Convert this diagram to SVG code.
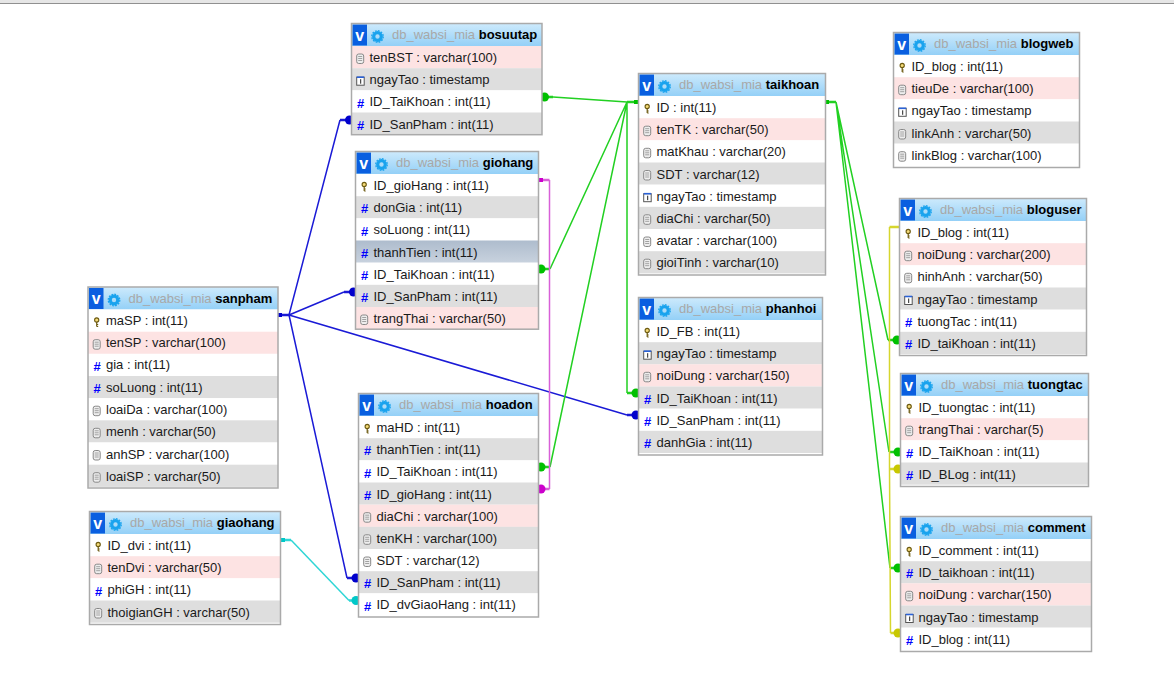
<svg xmlns="http://www.w3.org/2000/svg" width="1174" height="695" viewBox="0 0 1174 695">
<style>
text{font-family:"Liberation Sans",Arial,sans-serif;font-size:13px}
.t{fill:#1a1a1a}
.db{fill:#a8a8a8}
.nm{font-weight:bold;fill:#000}
.v{font-weight:bold;fill:#fff;font-size:16px;text-anchor:middle}
.h{fill:#00f;font-weight:bold;font-size:13px;text-anchor:middle}
.w{fill:#fff}.p{fill:#fde3e3}.g{fill:#dedede}.b{fill:url(#sel)}
.hd{fill:url(#head)}
.vb{fill:#0a5fe0}
.bd{fill:none;stroke:#aaa;stroke-width:1.5}
.c{fill:none;stroke-width:1.5;stroke-linejoin:miter}
.s{fill:none;stroke-width:2.6}
</style>
<defs>
<linearGradient id="head" x1="0" y1="0" x2="0" y2="1"><stop offset="0" stop-color="#cdeafc"/><stop offset="1" stop-color="#94d0f7"/></linearGradient>
<linearGradient id="sel" x1="0" y1="0" x2="0" y2="1"><stop offset="0" stop-color="#aebccd"/><stop offset="1" stop-color="#c8d2de"/></linearGradient>
<g id="gear"><circle r="3.8" fill="none" stroke="#19a3ee" stroke-width="3.2"/><circle r="5.8" fill="none" stroke="#19a3ee" stroke-width="1.2" stroke-dasharray="1.8 1.2"/></g>
<g id="k"><circle cy="-2" r="2.1" fill="#f5dc7a" stroke="#6d5a10" stroke-width="1.1"/><path d="M0 0V4.5M0 2.5H1.5M0 4.5H1.5" fill="none" stroke="#6d5a10" stroke-width="1.2"/></g>
<g id="d"><rect x="-3.500" y="-4.500" width="7" height="9.500" rx="2" fill="#eee" stroke="#888"/><path d="M-2 -2H2M-2 0H2M-2 2H2" stroke="#999" stroke-width=".9"/></g>
<g id="ts"><rect x="-3.500" y="-3.500" width="7.500" height="8" fill="#fff" stroke="#555"/><path d="M-3.500 -3.500H4" stroke="#2a62d8" stroke-width="1.600"/><path d="M0.500 -1.500V3" stroke="#222"/></g>
</defs>
<rect width="1174" height="695" fill="#fff"/>
<rect width="1174" height="3" fill="#e6e6e6"/>
<rect y="3" width="1174" height="1" fill="#909090"/>
<g id="connectors">
<g stroke="#1a1ad6" fill="#0000cc">
<path class="c" d="M289 315L340 120M289 315L344 292M289 315L627 415M289 315L347 578"/>
<path class="s" d="M278 315H289M340 120H351M344 292H355M627 415H638M347 578H358"/>
<rect x="278" y="313" width="4" height="4" stroke="none"/>
<circle cx="349.500" cy="120" r="4.500" stroke="none"/><circle cx="353.500" cy="292" r="4.500" stroke="none"/><circle cx="636" cy="415" r="4.500" stroke="none"/><circle cx="356" cy="578" r="4.500" stroke="none"/>
</g>
<g stroke="#22d022" fill="#00c000">
<path class="c" d="M627 102L553 97M627 102L550 269M627 102L550 467M627 102V393M836 102L888 340M836 102L889 452M836 102L890 568"/>
<path class="s" d="M638 102H627M542 97H553M539 269H550M539 467H550M627 393H638M825 102H836M899 340H888M900 452H889M900 568H890"/>
<rect x="634" y="100" width="4" height="4" stroke="none"/><rect x="825" y="100" width="4" height="4" stroke="none"/>
<circle cx="544.500" cy="97" r="4.500" stroke="none"/><circle cx="541" cy="269" r="4.500" stroke="none"/><circle cx="541" cy="467" r="4.500" stroke="none"/><circle cx="636" cy="393" r="4.500" stroke="none"/><circle cx="897" cy="340" r="4.500" stroke="none"/><circle cx="898" cy="452" r="4.500" stroke="none"/><circle cx="898" cy="568" r="4.500" stroke="none"/>
</g>
<g stroke="#d860d8" fill="#cc00cc">
<path class="c" d="M549.500 180V489"/><path class="s" d="M538.500 180H549.500M538.500 489H549.500"/>
<rect x="539" y="178" width="4" height="4" stroke="none"/><circle cx="541" cy="489" r="4.500" stroke="none"/>
</g>
<g stroke="#2fd6d6" fill="#00c8c8">
<path class="c" d="M291 540L349 600.500"/><path class="s" d="M280 540H291M349 600.500H358"/>
<rect x="281" y="538" width="4" height="4" stroke="none"/><circle cx="356" cy="600.500" r="4.500" stroke="none"/>
</g>
<g stroke="#d6d62e" fill="#c8c800">
<path class="c" d="M889.500 227V469L890.500 633"/><path class="s" d="M899 227H889.500M889.500 469H900M890.500 633H900"/>
<circle cx="898" cy="469" r="4.500" stroke="none"/><circle cx="898" cy="633" r="4.500" stroke="none"/>
</g>
</g>

<g id="bosuutap" transform="translate(351.500,23.500)">
<rect class="hd" width="190.500" height="22.500"/><rect class="vb" x="1" y="1" width="14.500" height="21"/><text class="v" x="8.300" y="17">v</text><use href="#gear" x="26" y="13"/>
<text x="40.500" y="15.500"><tspan class="db">db_wabsi_mia</tspan> <tspan class="nm">bosuutap</tspan></text>
<rect class="p" y="22.500" width="190.500" height="22.200"/><rect class="g" y="44.700" width="190.500" height="22.200"/><rect class="w" y="66.800" width="190.500" height="22.200"/><rect class="g" y="89" width="190.500" height="22.200"/>
<use href="#d" x="8.700" y="35"/><text class="t" x="18" y="38.500">tenBST : varchar(100)</text>
<use href="#ts" x="8.700" y="57.200"/><text class="t" x="18" y="60.700">ngayTao : timestamp</text>
<text class="h" x="9" y="84">#</text><text class="t" x="18" y="82.800">ID_TaiKhoan : int(11)</text>
<text class="h" x="9" y="106.200">#</text><text class="t" x="18" y="105">ID_SanPham : int(11)</text>
<rect class="bd" width="190.500" height="111.200"/>
</g>

<g id="giohang" transform="translate(355.500,151.500)">
<rect class="hd" width="183" height="22.500"/><rect class="vb" x="1" y="1" width="14.500" height="21"/><text class="v" x="8.300" y="17">v</text><use href="#gear" x="26" y="13"/>
<text x="40.500" y="15.500"><tspan class="db">db_wabsi_mia</tspan> <tspan class="nm">giohang</tspan></text>
<rect class="w" y="22.500" width="183" height="22.200"/><rect class="g" y="44.700" width="183" height="22.200"/><rect class="w" y="66.800" width="183" height="22.200"/><rect class="b" y="89" width="183" height="22.200"/><rect class="w" y="111.200" width="183" height="22.200"/><rect class="g" y="133.300" width="183" height="22.200"/><rect class="p" y="155.500" width="183" height="22.200"/>
<use href="#k" x="8.700" y="35"/><text class="t" x="18" y="38.500">ID_gioHang : int(11)</text>
<text class="h" x="9" y="61.800">#</text><text class="t" x="18" y="60.700">donGia : int(11)</text>
<text class="h" x="9" y="84">#</text><text class="t" x="18" y="82.800">soLuong : int(11)</text>
<text class="h" x="9" y="106.200">#</text><text class="t" x="18" y="105">thanhTien : int(11)</text>
<text class="h" x="9" y="128.400">#</text><text class="t" x="18" y="127.200">ID_TaiKhoan : int(11)</text>
<text class="h" x="9" y="150.500">#</text><text class="t" x="18" y="149.300">ID_SanPham : int(11)</text>
<use href="#d" x="8.700" y="168"/><text class="t" x="18" y="171.500">trangThai : varchar(50)</text>
<rect class="bd" width="183" height="177.700"/>
</g>

<g id="sanpham" transform="translate(88,287)">
<rect class="hd" width="190" height="22.500"/><rect class="vb" x="1" y="1" width="14.500" height="21"/><text class="v" x="8.300" y="17">v</text><use href="#gear" x="26" y="13"/>
<text x="40.500" y="15.500"><tspan class="db">db_wabsi_mia</tspan> <tspan class="nm">sanpham</tspan></text>
<rect class="w" y="22.500" width="190" height="22.200"/><rect class="p" y="44.700" width="190" height="22.200"/><rect class="w" y="66.800" width="190" height="22.200"/><rect class="g" y="89" width="190" height="22.200"/><rect class="w" y="111.200" width="190" height="22.200"/><rect class="g" y="133.300" width="190" height="22.200"/><rect class="w" y="155.500" width="190" height="22.200"/><rect class="g" y="177.700" width="190" height="22.200"/>
<use href="#k" x="8.700" y="35"/><text class="t" x="18" y="38">maSP : int(11)</text>
<use href="#d" x="8.700" y="57.200"/><text class="t" x="18" y="60.200">tenSP : varchar(100)</text>
<text class="h" x="9" y="84">#</text><text class="t" x="18" y="82.300">gia : int(11)</text>
<text class="h" x="9" y="106.200">#</text><text class="t" x="18" y="105">soLuong : int(11)</text>
<use href="#d" x="8.700" y="123.700"/><text class="t" x="18" y="127.200">loaiDa : varchar(100)</text>
<use href="#d" x="8.700" y="145.800"/><text class="t" x="18" y="149.300">menh : varchar(50)</text>
<use href="#d" x="8.700" y="168"/><text class="t" x="18" y="171.500">anhSP : varchar(100)</text>
<use href="#d" x="8.700" y="190.200"/><text class="t" x="18" y="193.700">loaiSP : varchar(50)</text>
<rect class="bd" width="190" height="201"/>
</g>

<g id="giaohang" transform="translate(89.500,511.500)">
<rect class="hd" width="191" height="22.500"/><rect class="vb" x="1" y="1" width="14.500" height="21"/><text class="v" x="8.300" y="17">v</text><use href="#gear" x="26" y="13"/>
<text x="40.500" y="15.500"><tspan class="db">db_wabsi_mia</tspan> <tspan class="nm">giaohang</tspan></text>
<rect class="w" y="22.500" width="191" height="22.200"/><rect class="p" y="44.700" width="191" height="22.200"/><rect class="w" y="66.800" width="191" height="22.200"/><rect class="g" y="89" width="191" height="22.200"/>
<use href="#k" x="8.700" y="35"/><text class="t" x="18" y="38.500">ID_dvi : int(11)</text>
<use href="#d" x="8.700" y="57.200"/><text class="t" x="18" y="60.700">tenDvi : varchar(50)</text>
<text class="h" x="9" y="84">#</text><text class="t" x="18" y="82.800">phiGH : int(11)</text>
<use href="#d" x="8.700" y="101.500"/><text class="t" x="18" y="105">thoigianGH : varchar(50)</text>
<rect class="bd" width="191" height="113"/>
</g>

<g id="hoadon" transform="translate(358.500,393.500)">
<rect class="hd" width="180" height="22.500"/><rect class="vb" x="1" y="1" width="14.500" height="21"/><text class="v" x="8.300" y="17">v</text><use href="#gear" x="26" y="13"/>
<text x="40.500" y="15.500"><tspan class="db">db_wabsi_mia</tspan> <tspan class="nm">hoadon</tspan></text>
<rect class="w" y="22.500" width="180" height="22.200"/><rect class="g" y="44.700" width="180" height="22.200"/><rect class="w" y="66.800" width="180" height="22.200"/><rect class="g" y="89" width="180" height="22.200"/><rect class="p" y="111.200" width="180" height="22.200"/><rect class="g" y="133.300" width="180" height="22.200"/><rect class="w" y="155.500" width="180" height="22.200"/><rect class="g" y="177.700" width="180" height="22.200"/><rect class="w" y="199.800" width="180" height="22.200"/>
<use href="#k" x="8.700" y="35"/><text class="t" x="18" y="38.500">maHD : int(11)</text>
<text class="h" x="9" y="61.800">#</text><text class="t" x="18" y="60.700">thanhTien : int(11)</text>
<text class="h" x="9" y="84">#</text><text class="t" x="18" y="82.800">ID_TaiKhoan : int(11)</text>
<text class="h" x="9" y="106.200">#</text><text class="t" x="18" y="105">ID_gioHang : int(11)</text>
<use href="#d" x="8.700" y="123.700"/><text class="t" x="18" y="127.200">diaChi : varchar(100)</text>
<use href="#d" x="8.700" y="145.800"/><text class="t" x="18" y="149.300">tenKH : varchar(100)</text>
<use href="#d" x="8.700" y="168"/><text class="t" x="18" y="171.500">SDT : varchar(12)</text>
<text class="h" x="9" y="194.900">#</text><text class="t" x="18" y="193.700">ID_SanPham : int(11)</text>
<text class="h" x="9" y="217">#</text><text class="t" x="18" y="215.800">ID_dvGiaoHang : int(11)</text>
<rect class="bd" width="180" height="223.500"/>
</g>

<g id="taikhoan" transform="translate(638.500,73.500)">
<rect class="hd" width="187" height="22.500"/><rect class="vb" x="1" y="1" width="14.500" height="21"/><text class="v" x="8.300" y="17">v</text><use href="#gear" x="26" y="13"/>
<text x="40.500" y="15.500"><tspan class="db">db_wabsi_mia</tspan> <tspan class="nm">taikhoan</tspan></text>
<rect class="w" y="22.500" width="187" height="22.200"/><rect class="p" y="44.700" width="187" height="22.200"/><rect class="w" y="66.800" width="187" height="22.200"/><rect class="g" y="89" width="187" height="22.200"/><rect class="w" y="111.200" width="187" height="22.200"/><rect class="g" y="133.300" width="187" height="22.200"/><rect class="w" y="155.500" width="187" height="22.200"/><rect class="g" y="177.700" width="187" height="22.200"/>
<use href="#k" x="8.700" y="35"/><text class="t" x="18" y="38.500">ID : int(11)</text>
<use href="#d" x="8.700" y="57.200"/><text class="t" x="18" y="60.700">tenTK : varchar(50)</text>
<use href="#d" x="8.700" y="79.300"/><text class="t" x="18" y="82.800">matKhau : varchar(20)</text>
<use href="#d" x="8.700" y="101.500"/><text class="t" x="18" y="105">SDT : varchar(12)</text>
<use href="#ts" x="8.700" y="123.700"/><text class="t" x="18" y="127.200">ngayTao : timestamp</text>
<use href="#d" x="8.700" y="145.800"/><text class="t" x="18" y="149.300">diaChi : varchar(50)</text>
<use href="#d" x="8.700" y="168"/><text class="t" x="18" y="171.500">avatar : varchar(100)</text>
<use href="#d" x="8.700" y="190.200"/><text class="t" x="18" y="193.700">gioiTinh : varchar(10)</text>
<rect class="bd" width="187" height="201.500"/>
</g>

<g id="phanhoi" transform="translate(638.500,297.500)">
<rect class="hd" width="184" height="22.500"/><rect class="vb" x="1" y="1" width="14.500" height="21"/><text class="v" x="8.300" y="17">v</text><use href="#gear" x="26" y="13"/>
<text x="40.500" y="15.500"><tspan class="db">db_wabsi_mia</tspan> <tspan class="nm">phanhoi</tspan></text>
<rect class="w" y="22.500" width="184" height="22.200"/><rect class="g" y="44.700" width="184" height="22.200"/><rect class="p" y="66.800" width="184" height="22.200"/><rect class="g" y="89" width="184" height="22.200"/><rect class="w" y="111.200" width="184" height="22.200"/><rect class="g" y="133.300" width="184" height="22.200"/>
<use href="#k" x="8.700" y="35"/><text class="t" x="18" y="38.500">ID_FB : int(11)</text>
<use href="#ts" x="8.700" y="57.200"/><text class="t" x="18" y="60.700">ngayTao : timestamp</text>
<use href="#d" x="8.700" y="79.300"/><text class="t" x="18" y="82.800">noiDung : varchar(150)</text>
<text class="h" x="9" y="106.200">#</text><text class="t" x="18" y="105">ID_TaiKhoan : int(11)</text>
<text class="h" x="9" y="128.400">#</text><text class="t" x="18" y="127.200">ID_SanPham : int(11)</text>
<text class="h" x="9" y="150.500">#</text><text class="t" x="18" y="149.300">danhGia : int(11)</text>
<rect class="bd" width="184" height="157.500"/>
</g>

<g id="blogweb" transform="translate(893.500,32.500)">
<rect class="hd" width="186" height="22.500"/><rect class="vb" x="1" y="1" width="14.500" height="21"/><text class="v" x="8.300" y="17">v</text><use href="#gear" x="26" y="13"/>
<text x="40.500" y="15.500"><tspan class="db">db_wabsi_mia</tspan> <tspan class="nm">blogweb</tspan></text>
<rect class="w" y="22.500" width="186" height="22.200"/><rect class="p" y="44.700" width="186" height="22.200"/><rect class="w" y="66.800" width="186" height="22.200"/><rect class="g" y="89" width="186" height="22.200"/><rect class="w" y="111.200" width="186" height="22.200"/>
<use href="#k" x="8.700" y="35"/><text class="t" x="18" y="38.500">ID_blog : int(11)</text>
<use href="#d" x="8.700" y="57.200"/><text class="t" x="18" y="60.700">tieuDe : varchar(100)</text>
<use href="#ts" x="8.700" y="79.300"/><text class="t" x="18" y="82.800">ngayTao : timestamp</text>
<use href="#d" x="8.700" y="101.500"/><text class="t" x="18" y="105">linkAnh : varchar(50)</text>
<use href="#d" x="8.700" y="123.700"/><text class="t" x="18" y="127.200">linkBlog : varchar(100)</text>
<rect class="bd" width="186" height="135"/>
</g>

<g id="bloguser" transform="translate(899.500,198.500)">
<rect class="hd" width="187" height="22.500"/><rect class="vb" x="1" y="1" width="14.500" height="21"/><text class="v" x="8.300" y="17">v</text><use href="#gear" x="26" y="13"/>
<text x="40.500" y="15.500"><tspan class="db">db_wabsi_mia</tspan> <tspan class="nm">bloguser</tspan></text>
<rect class="w" y="22.500" width="187" height="22.200"/><rect class="p" y="44.700" width="187" height="22.200"/><rect class="w" y="66.800" width="187" height="22.200"/><rect class="g" y="89" width="187" height="22.200"/><rect class="w" y="111.200" width="187" height="22.200"/><rect class="g" y="133.300" width="187" height="22.200"/>
<use href="#k" x="8.700" y="35"/><text class="t" x="18" y="38.500">ID_blog : int(11)</text>
<use href="#d" x="8.700" y="57.200"/><text class="t" x="18" y="60.700">noiDung : varchar(200)</text>
<use href="#d" x="8.700" y="79.300"/><text class="t" x="18" y="82.800">hinhAnh : varchar(50)</text>
<use href="#ts" x="8.700" y="101.500"/><text class="t" x="18" y="105">ngayTao : timestamp</text>
<text class="h" x="9" y="128.400">#</text><text class="t" x="18" y="127.200">tuongTac : int(11)</text>
<text class="h" x="9" y="150.500">#</text><text class="t" x="18" y="149.300">ID_taiKhoan : int(11)</text>
<rect class="bd" width="187" height="157"/>
</g>

<g id="tuongtac" transform="translate(900.500,373.500)">
<rect class="hd" width="188" height="22.500"/><rect class="vb" x="1" y="1" width="14.500" height="21"/><text class="v" x="8.300" y="17">v</text><use href="#gear" x="26" y="13"/>
<text x="40.500" y="15.500"><tspan class="db">db_wabsi_mia</tspan> <tspan class="nm">tuongtac</tspan></text>
<rect class="w" y="22.500" width="188" height="22.200"/><rect class="p" y="44.700" width="188" height="22.200"/><rect class="w" y="66.800" width="188" height="22.200"/><rect class="g" y="89" width="188" height="22.200"/>
<use href="#k" x="8.700" y="35"/><text class="t" x="18" y="38.500">ID_tuongtac : int(11)</text>
<use href="#d" x="8.700" y="57.200"/><text class="t" x="18" y="60.700">trangThai : varchar(5)</text>
<text class="h" x="9" y="84">#</text><text class="t" x="18" y="82.800">ID_TaiKhoan : int(11)</text>
<text class="h" x="9" y="106.200">#</text><text class="t" x="18" y="105">ID_BLog : int(11)</text>
<rect class="bd" width="188" height="113"/>
</g>

<g id="comment" transform="translate(900.500,516.500)">
<rect class="hd" width="191" height="22.500"/><rect class="vb" x="1" y="1" width="14.500" height="21"/><text class="v" x="8.300" y="17">v</text><use href="#gear" x="26" y="13"/>
<text x="40.500" y="15.500"><tspan class="db">db_wabsi_mia</tspan> <tspan class="nm">comment</tspan></text>
<rect class="w" y="22.500" width="191" height="22.200"/><rect class="g" y="44.700" width="191" height="22.200"/><rect class="p" y="66.800" width="191" height="22.200"/><rect class="g" y="89" width="191" height="22.200"/><rect class="w" y="111.200" width="191" height="24"/>
<use href="#k" x="8.700" y="35"/><text class="t" x="18" y="38.500">ID_comment : int(11)</text>
<text class="h" x="9" y="61.800">#</text><text class="t" x="18" y="60.700">ID_taikhoan : int(11)</text>
<use href="#d" x="8.700" y="79.300"/><text class="t" x="18" y="82.800">noiDung : varchar(150)</text>
<use href="#ts" x="8.700" y="101.500"/><text class="t" x="18" y="105">ngayTao : timestamp</text>
<text class="h" x="9" y="128.400">#</text><text class="t" x="18" y="127.200">ID_blog : int(11)</text>
<rect class="bd" width="191" height="135"/>
</g>
</svg>
